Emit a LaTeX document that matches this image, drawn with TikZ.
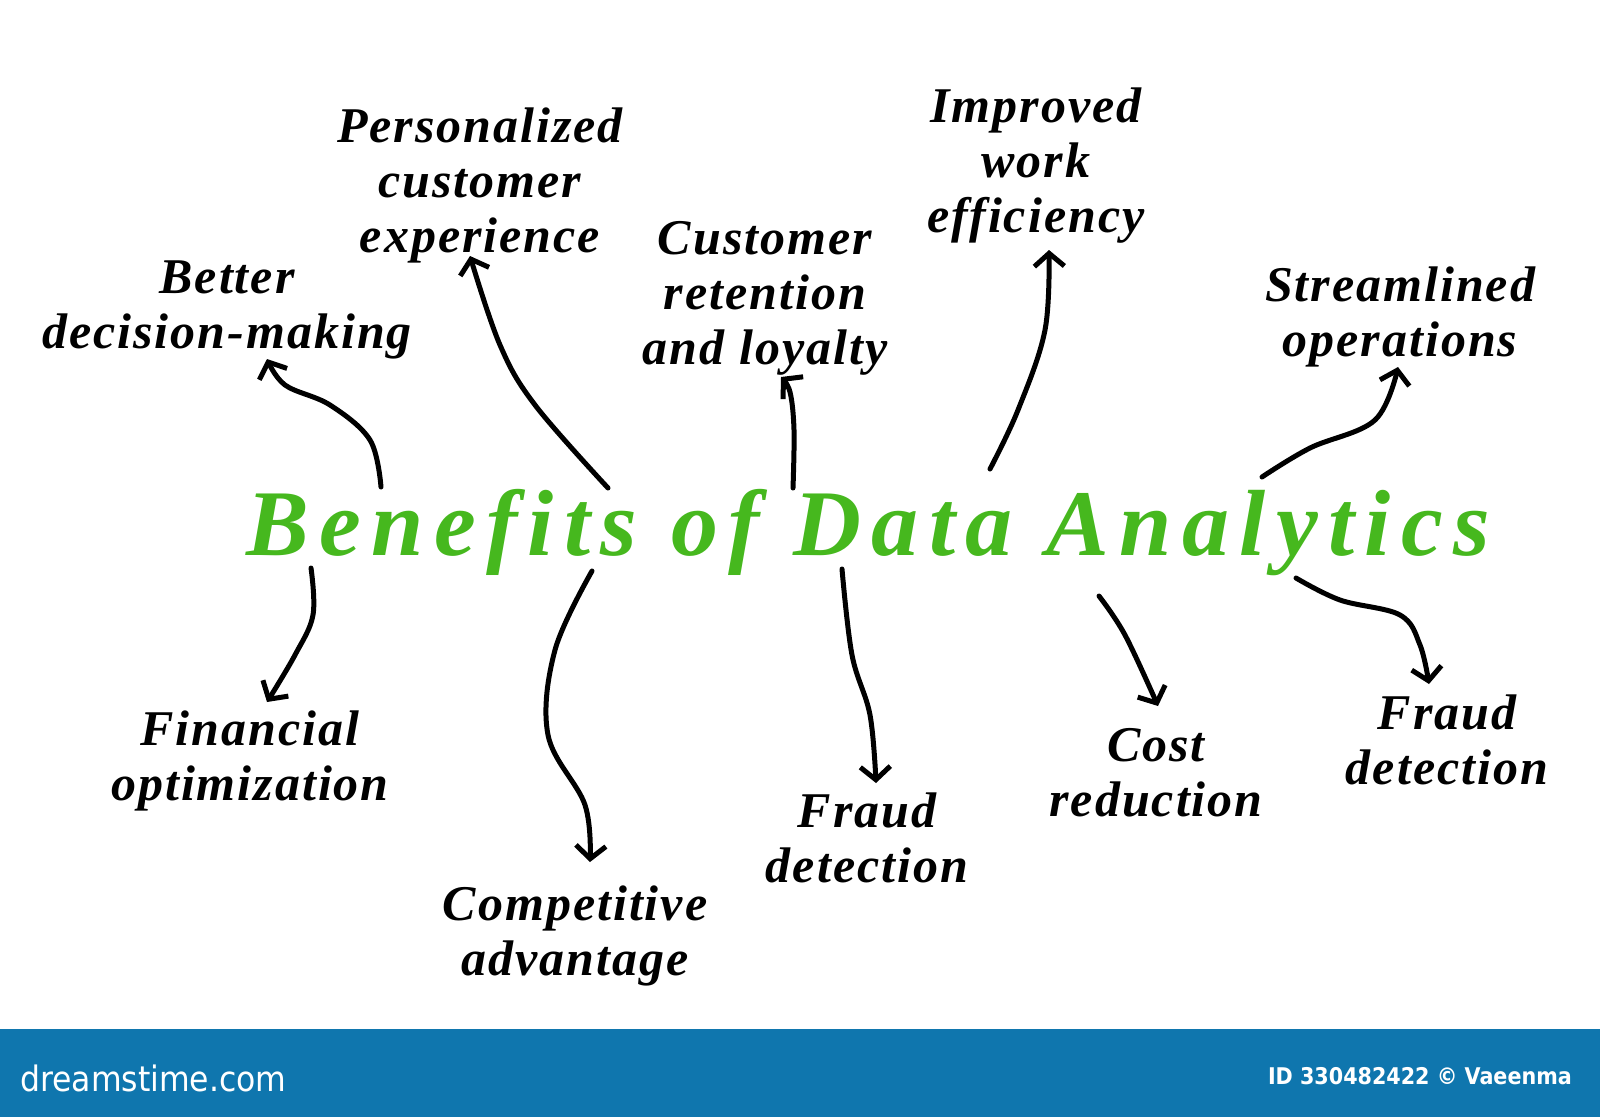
\documentclass[tikz,border=0pt]{standalone}
\usepackage{fontspec}
\setmainfont{Liberation Serif}
\newfontfamily\lblfont[LetterSpace=4]{Liberation Serif}
\newfontfamily\ttlfont[LetterSpace=11]{Liberation Serif}
\newfontfamily\bannerfont{DejaVu Sans Condensed}
\usetikzlibrary{arrows.meta}
\definecolor{titlegreen}{RGB}{70,184,30}
\definecolor{bannerblue}{RGB}{15,118,174}
\tikzset{
  lbl/.style={font=\lblfont\fontsize{50}{55}\selectfont\bfseries\itshape, align=center, inner sep=0pt, text=black},
  ttl/.style={font=\ttlfont\fontsize{94}{100}\selectfont\bfseries\itshape, text=titlegreen, inner sep=0pt},
  arr/.style={line width=5pt, line cap=round, line join=round, -{Straight Barb[length=13pt,width=30pt,line width=5pt]}},
  bannertxt/.style={text=white, inner sep=0pt}
}
\begin{document}
\begin{tikzpicture}[x=1pt,y=-1pt]
\useasboundingbox (0,0) rectangle (1600,1117);
\fill[white] (0,0) rectangle (1600,1117);
% banner
\fill[bannerblue] (0,1029) rectangle (1600,1117);
\node[bannertxt, font=\bannerfont\fontsize{35}{35}\selectfont, anchor=west] (brand) at (20,1078) {dreamstime.com};
\node[bannertxt, font=\bannerfont\bfseries\fontsize{23}{23}\selectfont, anchor=east] (imgid) at (1572,1076) {ID 330482422 © Vaeenma};
% title
\node[ttl] (title) at (868,533) {Benefits of Data Analytics};
% labels
\node[lbl] (better) at (227,310) {Better\\decision-making};
\node[lbl] (pers) at (480,185) {Personalized\\customer\\experience};
\node[lbl] (ret) at (765,298) {Customer\\retention\\and loyalty};
\node[lbl] (impr) at (1036,166) {Improved\\work\\efficiency};
\node[lbl] (stream) at (1400,317) {Streamlined\\operations};
\node[lbl] (fin) at (250,761) {Financial\\optimization};
\node[lbl] (comp) at (575,936) {Competitive\\advantage};
\node[lbl] (fraudA) at (867,838) {Fraud\\detection};
\node[lbl] (cost) at (1156,773) {Cost\\reduction};
\node[lbl] (fraudB) at (1447,740) {Fraud\\detection};
% connector end points
\coordinate (s1) at (381,487); \coordinate (e1) at (267,359);
\coordinate (s2) at (608,488); \coordinate (e2) at (470,256);
\coordinate (s3) at (793,488); \coordinate (e3) at (781,377);
\coordinate (s4) at (990,469); \coordinate (e4) at (1049,250);
\coordinate (s5) at (1262,477); \coordinate (e5) at (1398,367);
\coordinate (s6) at (311,568); \coordinate (e6) at (267,702);
\coordinate (s7) at (592,571); \coordinate (e7) at (590,862);
\coordinate (s8) at (842,569); \coordinate (e8) at (876,783);
\coordinate (s9) at (1099,596); \coordinate (e9) at (1158,706);
\coordinate (s10) at (1296,578); \coordinate (e10) at (1429,684);
% connectors
\draw[arr] plot[smooth, tension=0.6] coordinates {(s1) (370,440) (330,405) (285,385) (e1)};
\draw[arr] plot[smooth, tension=0.6] coordinates {(s2) (535,405) (500,345) (e2)};
\draw[arr] plot[smooth, tension=0.6] coordinates {(s3) (794,430) (790,392) (e3)};
\draw[arr] plot[smooth, tension=0.6] coordinates {(s4) (1018,410) (1045,330) (e4)};
\draw[arr] plot[smooth, tension=0.6] coordinates {(s5) (1310,448) (1375,420) (e5)};
\draw[arr] plot[smooth, tension=0.6] coordinates {(s6) (313,615) (295,655) (e6)};
\draw[arr] plot[smooth, tension=0.6] coordinates {(s7) (555,650) (548,735) (585,805) (e7)};
\draw[arr] plot[smooth, tension=0.6] coordinates {(s8) (852,655) (870,715) (e8)};
\draw[arr] plot[smooth, tension=0.6] coordinates {(s9) (1125,635) (e9)};
\draw[arr] plot[smooth, tension=0.6] coordinates {(s10) (1340,600) (1400,615) (1420,645) (e10)};
\end{tikzpicture}
\end{document}
